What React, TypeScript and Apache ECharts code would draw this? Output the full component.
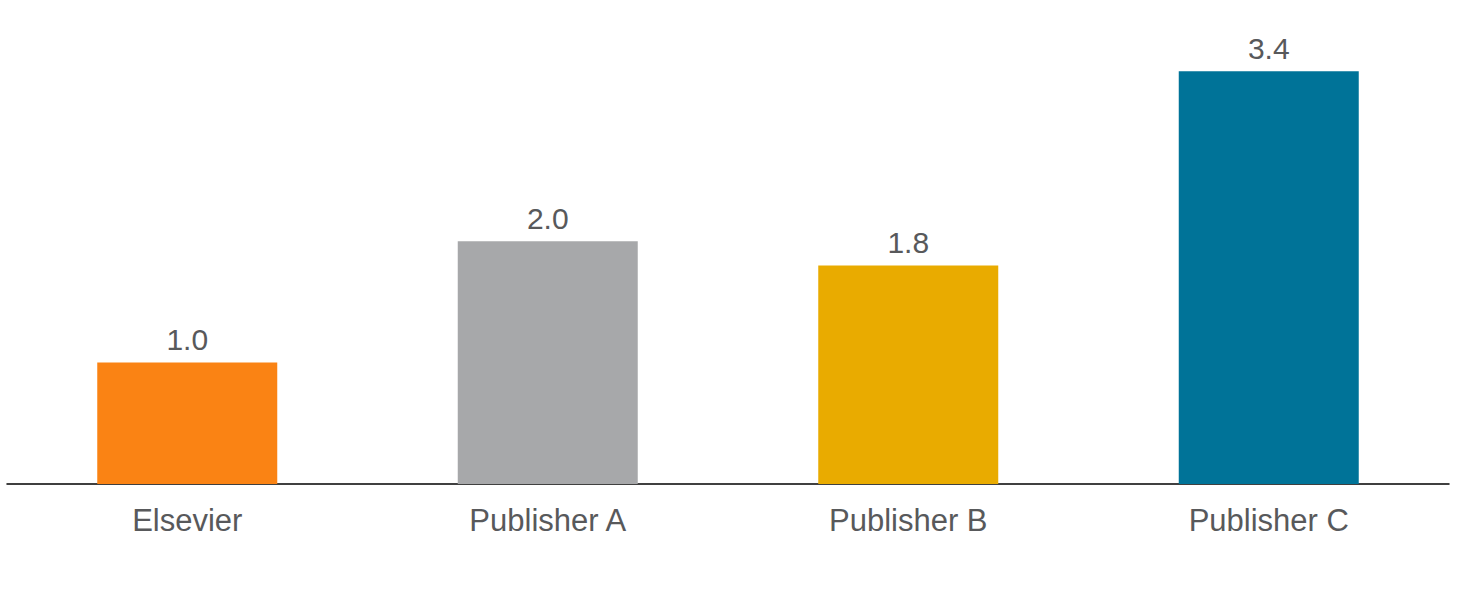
import React, { useEffect, useRef } from "react";
import * as echarts from "echarts";

const categories = ["Elsevier", "Publisher A", "Publisher B", "Publisher C"];
const values = [1.0, 2.0, 1.8, 3.4];
const barColors = ["#FA8314", "#A7A8AA", "#E9AB00", "#007398"];

export default function App() {
  const ref = useRef<HTMLDivElement>(null);
  useEffect(() => {
    if (!ref.current) return;
    const chart = echarts.init(ref.current, undefined, { renderer: "svg" });
    chart.setOption({
      animation: false,
      grid: { left: 7, right: 10, top: 8, bottom: 114, containLabel: false },
      xAxis: {
        type: "category",
        data: categories,
        axisLine: { show: true, lineStyle: { color: "#000", width: 1.5 } },
        axisTick: { show: false },
        axisLabel: {
          color: "#58595B",
          fontSize: 31,
          fontFamily: "Liberation Sans",
          margin: 21,
        },
      },
      yAxis: {
        type: "value",
        min: 0,
        max: 3.92,
        show: false,
        splitLine: { show: false },
      },
      series: [
        {
          type: "bar",
          barWidth: 180,
          data: values.map((v, i) => ({ value: v, itemStyle: { color: barColors[i] } })),
          label: {
            show: true,
            position: "top",
            distance: 8,
            color: "#58595B",
            fontSize: 30,
            fontFamily: "Liberation Sans",
            formatter: (p: any) => Number(p.value).toFixed(1),
          },
        },
      ],
    });
    return () => chart.dispose();
  }, []);
  return (
    <div
      ref={ref}
      style={{ position: "fixed", left: 0, top: 0, width: 1459, height: 598, background: "#fff" }}
    />
  );
}
